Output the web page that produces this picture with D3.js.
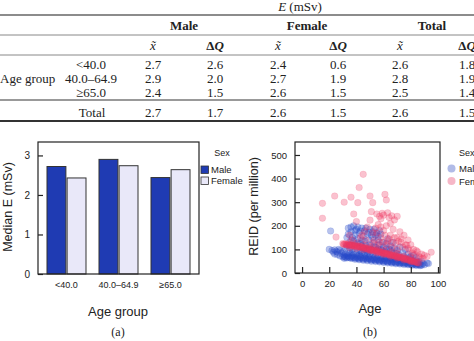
<!DOCTYPE html>
<html><head><meta charset="utf-8">
<script src="https://cdn.jsdelivr.net/npm/d3@7"></script>
<style>
html,body{margin:0;padding:0;background:#fff;}
svg{display:block;}
</style></head>
<body>
<script>
// ---------- DATA ----------
const tableRowLabels = ["<40.0", "40.0–64.9", "≥65.0"];
const tableTotalLabel = "Total";
const tableGroups = ["Male", "Female", "Total"];
const tableMaleMedian = [2.7, 2.9, 2.4];
const tableMaleIQR = [2.6, 2.0, 1.5];
const tableFemaleMedian = [2.4, 2.7, 2.6];
const tableFemaleIQR = [0.6, 1.9, 1.5];
const tableTotalMedian = [2.6, 2.8, 2.5];
const tableTotalIQR = [1.8, 1.9, 1.4];
const tableTotalsRow = [2.7, 1.7, 2.6, 1.5, 2.6, 1.5];

const barCategories = ["<40.0", "40.0–64.9", "≥65.0"];
const barSexes = ["Male", "Female"];
const barMale = [2.72, 2.90, 2.44];
const barFemale = [2.43, 2.74, 2.64];
const barYTicks = [0, 1, 2, 3];

const scatterXTicks = [0, 20, 40, 60, 80, 100];
const scatterYTicks = [0, 100, 200, 300, 400, 500];
const scatterMale = [
 [20,100],[21,178],[22,95],[23,88],[24,80],[25,92],[26,78],[27,100],[28,72],[29,84],
 [30,68],[31,70],[32,66],[33,72],[34,68],[35,65],[36,70],[37,64],[38,67],[39,62],[40,66],
 [41,63],[42,60],[43,65],[44,62],[45,58],[46,63],[47,60],[48,57],[49,61],[50,58],
 [51,55],[52,59],[53,56],[54,53],[55,57],[56,54],[57,51],[58,55],[59,52],[60,49],
 [61,53],[62,50],[63,47],[64,51],[65,48],[66,45],[67,49],[68,46],[69,43],[70,47],
 [71,44],[72,42],[73,45],[74,41],[75,43],[76,40],[77,42],[78,38],[79,41],[80,37],
 [81,39],[82,36],[83,38],[84,35],[85,37],[86,34],[87,36],[88,33],[90,35],[93,40],
 [31,62],[33,64],[36,62],[39,58],[42,56],[45,54],[48,52],[51,50],[54,49],[57,47],
 [60,45],[63,43],[66,41],[69,39],[72,38],[75,36],[78,35],[81,33],[84,32],[87,31],
 [32,80],[35,85],[38,78],[40,82],[42,76],[44,88],[46,74],[48,80],[50,72],[52,78],
 [54,70],[56,75],[58,68],[60,72],[62,65],[64,70],[66,62],[68,66],[70,60],[72,63],
 [74,57],[76,60],[78,54],[80,56],[82,50],[84,52],[86,47],
 [31,76],[34,74],[37,73],[41,72],[43,70],[47,68],[49,67],[53,64],[55,63],[59,61],
 [61,60],[65,57],[67,56],[71,53],[73,52],[77,48],[79,47],[83,44],[85,43],[89,40],
 [33,150],[34,190],[35,120],[36,175],[37,100],[38,135],[38,200],[39,160],[40,110],[40,185],
 [41,145],[42,95],[42,170],[43,125],[44,190],[45,105],[45,155],[46,135],[46,180],[47,115],
 [48,165],[48,95],[49,140],[50,120],[50,185],[51,100],[52,150],[52,175],[53,130],[54,110],
 [54,160],[55,95],[56,140],[57,120],[58,100],[58,165],[59,130],[60,110],[61,90],[62,125],
 [63,145],[64,100],[65,115],[66,90],[67,130],[68,105],[70,95],[72,110],[74,85],[76,100],
 [78,80],[80,70],[82,75],[84,65],[88,50],[92,42],
 [34,165],[36,195],[37,150],[39,180],[41,195],[43,178],[44,140],[47,190],[49,172],[51,160],
 [53,185],[55,170],[56,155],[57,180],[35,98],[36,140],[39,120],[41,128],[44,115],[47,98],
 [49,108],[53,112],[56,102],[59,95],[62,102],[65,98],[69,85],[71,78],[75,70],[79,65],
 [30,90],[32,105],[28,95],[26,88],[24,98],[33,115],[37,88],[43,92],[46,85],[51,88]
];
const scatterFemale = [
 [30,125],[31,122],[32,124],[33,120],[34,122],[35,118],[36,120],[37,116],[38,118],[39,114],
 [40,116],[41,112],[42,114],[43,110],[44,111],[45,107],[46,109],[47,104],[48,106],[49,101],
 [50,103],[51,98],[52,100],[53,95],[54,97],[55,92],[56,94],[57,89],[58,90],[59,86],
 [60,87],[61,83],[62,84],[63,80],[64,81],[65,77],[66,78],[67,74],[68,75],[69,71],
 [70,72],[71,68],[72,69],[73,65],[74,66],[75,62],[76,62],[77,58],[78,59],[79,55],
 [80,55],[81,51],[82,52],[83,48],[84,46],[85,43],[86,42],
 [30.5,121],[32.5,119],[34.5,117],[36.5,115],[38.5,113],[40.5,111],[42.5,109],[44.5,106],
 [46.5,103],[48.5,100],[50.5,97],[52.5,94],[54.5,91],[56.5,88],[58.5,85],[60.5,82],
 [62.5,79],[64.5,76],[66.5,73],[68.5,70],[70.5,67],[72.5,64],[74.5,60],[76.5,57],
 [78.5,53],[80.5,50],[82.5,47],[84.5,44],
 [35,130],[40,126],[45,120],[50,113],[55,104],[60,97],[65,88],[70,82],[75,72],[80,65],
 [35,108],[40,104],[45,99],[50,94],[55,85],[60,78],[65,70],[70,63],[75,55],[80,48],
 [15,295],[15,232],[24,326],[25,152],[31,300],[36,321],[40,218],[42,362],[41,298],[45,418],
 [50,326],[52,298],[51,260],[50,224],[61,333],[62,309],[59,253],[57,240],[55,250],[58,230],
 [60,245],[63,255],[64,235],[66,242],[68,225],[70,240],[65,210],[62,200],[56,205],[54,190],
 [48,195],[46,175],[44,160],[52,170],[60,180],[67,185],[72,175],[75,160],[70,150],[65,160],
 [58,150],[73,130],[78,140],[80,120],[82,100],[85,90],[88,80],[90,75],[95,88],[92,70],
 [87,65],[84,95],[78,105],[76,120],[74,110],[69,125],[63,135],[57,130],[53,140],[47,140],
 [43,150],[38,250],[37,140],[35,160],
 [55,168],[58,195],[61,160],[64,145],[66,130],[68,150],[71,135],[73,145],[77,118],[79,95],
 [81,85],[83,78],[86,70],[89,62],[62,118],[66,108],[70,100],[60,130],[56,120],[52,128]
];

// ---------- DRAW ----------
const W = 474, H = 341;
const svg = d3.select("body").append("svg").attr("width", W).attr("height", H);
svg.append("rect").attr("width", W).attr("height", H).attr("fill", "#fff");

const serif = "'Liberation Serif', 'DejaVu Serif', serif";
const sans = "'Liberation Sans', Arial, sans-serif";
const ink = "#222";

// ---- Table ----
const tbl = svg.append("g").attr("font-family", serif).attr("fill", ink).attr("font-size", 13);
const colX = [153, 215, 278, 338, 400, 467];
const groupX = [184, 307, 432];
const rowY = [68.5, 83, 96.5];

// header E (mSv)
const hdr = tbl.append("text").attr("x", 300).attr("y", 10.5).attr("text-anchor", "middle");
hdr.append("tspan").attr("font-style", "italic").text("E");
hdr.append("tspan").text(" (mSv)");

const hline = (y, w, c) => tbl.append("line").attr("x1", 0).attr("x2", W).attr("y1", y).attr("y2", y)
  .attr("stroke", c).attr("stroke-width", w);
hline(15, 1.6, "#666");
hline(35, 1, "#888");
hline(55, 1, "#888");
hline(100, 1.6, "#777");
hline(121, 2, "#333");

tbl.selectAll("text.grp").data(tableGroups).join("text").attr("class", "grp")
  .attr("x", (d, i) => groupX[i]).attr("y", 29.5).attr("text-anchor", "middle")
  .attr("font-weight", "bold").text(d => d);

colX.forEach((x, i) => {
  const t = tbl.append("text").attr("x", x).attr("y", 49.5).attr("text-anchor", "middle");
  if (i % 2 === 0) {
    t.attr("font-style", "italic").text("x\u0303");
  } else {
    t.append("tspan").attr("font-weight", "bold").text("Δ");
    t.append("tspan").attr("font-weight", "bold").attr("font-style", "italic").text("Q");
  }
});

tbl.append("text").attr("x", 0).attr("y", rowY[1]).text("Age group");
tbl.selectAll("text.rl").data(tableRowLabels).join("text").attr("class", "rl")
  .attr("x", 91).attr("y", (d, i) => rowY[i]).attr("text-anchor", "middle").text(d => d);
const cols = [tableMaleMedian, tableMaleIQR, tableFemaleMedian, tableFemaleIQR, tableTotalMedian, tableTotalIQR];
cols.forEach((arr, ci) => {
  tbl.selectAll("text.c" + ci).data(arr).join("text").attr("class", "c" + ci)
    .attr("x", colX[ci]).attr("y", (d, i) => rowY[i]).attr("text-anchor", "middle")
    .text(d => d.toFixed(1));
});
tbl.append("text").attr("x", 92).attr("y", 116.5).attr("text-anchor", "middle").text(tableTotalLabel);
tbl.selectAll("text.tot").data(tableTotalsRow).join("text").attr("class", "tot")
  .attr("x", (d, i) => colX[i]).attr("y", 116.5).attr("text-anchor", "middle").text(d => d.toFixed(1));

// ---- Bar chart (a) ----
const A = {l: 38, r: 199, t: 142, b: 274};
const ga = svg.append("g").attr("font-family", sans);
const yA = d3.scaleLinear().domain([0, 3.34]).range([A.b, A.t]);
const xA = d3.scaleBand().domain(barCategories).range([A.l, A.r]).paddingInner(0.25).paddingOuter(0.173);
const xSub = d3.scaleBand().domain(barSexes).range([0, xA.bandwidth()]).paddingInner(0.06);
const barFill = {Male: "#1f3bb3", Female: "#e9e8f9"};
const barData = [];
barCategories.forEach((c, i) => {
  barData.push({cat: c, sex: "Male", v: barMale[i]});
  barData.push({cat: c, sex: "Female", v: barFemale[i]});
});
ga.selectAll("rect.bar").data(barData).join("rect").attr("class", "bar")
  .attr("x", d => xA(d.cat) + xSub(d.sex)).attr("width", xSub.bandwidth())
  .attr("y", d => yA(d.v)).attr("height", d => yA(0) - yA(d.v))
  .attr("fill", d => barFill[d.sex]).attr("stroke", "#333").attr("stroke-width", 1);
ga.append("rect").attr("x", A.l).attr("y", A.t).attr("width", A.r - A.l).attr("height", A.b - A.t)
  .attr("fill", "none").attr("stroke", ink).attr("stroke-width", 1.2);
const yAxA = ga.append("g").attr("transform", `translate(${A.l},0)`)
  .call(d3.axisRight(yA).tickValues(barYTicks).tickSize(5).tickFormat(d3.format("d")));
yAxA.select(".domain").remove();
yAxA.selectAll("line").attr("stroke", ink).attr("stroke-width", 1.2);
yAxA.selectAll("text").attr("x", -8).attr("text-anchor", "end").attr("font-size", 10).attr("fill", ink)
  .attr("font-family", sans);
const xAxA = ga.append("g").attr("transform", `translate(0,${A.b})`)
  .call(d3.axisBottom(xA).tickSize(0).tickPadding(8));
xAxA.select(".domain").remove();
xAxA.selectAll("text").attr("font-size", 9).attr("fill", ink).attr("font-family", sans);
ga.append("text").attr("transform", `translate(12,${(A.t + A.b) / 2 - 1}) rotate(-90)`)
  .attr("text-anchor", "middle").attr("font-size", 12.5).attr("fill", ink).text("Median E (mSv)");
ga.append("text").attr("x", 118).attr("y", 316).attr("text-anchor", "middle")
  .attr("font-size", 13).attr("fill", ink).text("Age group");
// legend a
ga.append("text").attr("x", 222).attr("y", 156).attr("text-anchor", "middle").attr("font-size", 9).attr("fill", ink).text("Sex");
barSexes.forEach((s, i) => {
  ga.append("rect").attr("x", 201).attr("y", 166 + i * 11).attr("width", 7.5).attr("height", 7.5)
    .attr("fill", barFill[s]).attr("stroke", "#333").attr("stroke-width", 0.8);
  ga.append("text").attr("x", 211).attr("y", 173 + i * 11).attr("font-size", 9.5).attr("fill", ink).text(s);
});

// ---- Scatter (b) ----
const B = {l: 295, r: 440, t: 142, b: 273};
const gb = svg.append("g").attr("font-family", sans);
const xB = d3.scaleLinear().domain([-5.2, 101.5]).range([B.l, B.r]);
const yB = d3.scaleLinear().domain([0, 555]).range([B.b, B.t]);
gb.selectAll("circle.m").data(scatterMale).join("circle").attr("class", "m")
  .attr("cx", d => xB(d[0])).attr("cy", d => yB(d[1])).attr("r", 3.3)
  .attr("fill", "#2848c8").attr("fill-opacity", 0.33).attr("stroke", "#2848c8").attr("stroke-opacity", 0.3).attr("stroke-width", 0.5);
gb.selectAll("circle.f").data(scatterFemale).join("circle").attr("class", "f")
  .attr("cx", d => xB(d[0])).attr("cy", d => yB(d[1])).attr("r", 3.3)
  .attr("fill", "#ee3461").attr("fill-opacity", 0.3).attr("stroke", "#ee3461").attr("stroke-opacity", 0.25).attr("stroke-width", 0.5);
gb.append("rect").attr("x", B.l).attr("y", B.t).attr("width", B.r - B.l).attr("height", B.b - B.t)
  .attr("fill", "none").attr("stroke", ink).attr("stroke-width", 1.2);
const yAxB = gb.append("g").attr("transform", `translate(${B.l},0)`)
  .call(d3.axisRight(yB).tickValues(scatterYTicks).tickSize(5));
yAxB.select(".domain").remove();
yAxB.selectAll("line").attr("stroke", ink).attr("stroke-width", 1.2);
yAxB.selectAll("text").attr("x", -8).attr("text-anchor", "end").attr("font-size", 9.5).attr("fill", ink).attr("font-family", sans);
const xAxB = gb.append("g").attr("transform", `translate(0,${B.b})`)
  .call(d3.axisTop(xB).tickValues(scatterXTicks).tickSize(6));
xAxB.select(".domain").remove();
xAxB.selectAll("line").attr("stroke", ink).attr("stroke-width", 1.2);
xAxB.selectAll("text").attr("y", 7).attr("dy", "0.71em").attr("font-size", 9.5).attr("fill", ink).attr("font-family", sans);
gb.append("text").attr("transform", `translate(258,${(B.t + B.b) / 2 - 1}) rotate(-90)`)
  .attr("text-anchor", "middle").attr("font-size", 12.5).attr("fill", ink).text("REID (per million)");
gb.append("text").attr("x", 370).attr("y", 313).attr("text-anchor", "middle")
  .attr("font-size", 13).attr("fill", ink).text("Age");
// legend b
gb.append("text").attr("x", 459).attr("y", 156).attr("font-size", 9).attr("fill", ink).text("Sex");
const legB = [{s: "Male", c: "#b1bbe7"}, {s: "Female", c: "#f6b7c7"}];
legB.forEach((d, i) => {
  gb.append("circle").attr("cx", 451.5).attr("cy", 168.5 + i * 12.5).attr("r", 4).attr("fill", d.c);
  gb.append("text").attr("x", 459).attr("y", 172 + i * 12.5).attr("font-size", 9.5).attr("fill", ink).text(d.s);
});

// captions
svg.append("text").attr("x", 118).attr("y", 336).attr("text-anchor", "middle").attr("font-family", serif)
  .attr("font-size", 12).attr("fill", ink).text("(a)");
svg.append("text").attr("x", 370).attr("y", 336).attr("text-anchor", "middle").attr("font-family", serif)
  .attr("font-size", 12).attr("fill", ink).text("(b)");
</script>
</body></html>
